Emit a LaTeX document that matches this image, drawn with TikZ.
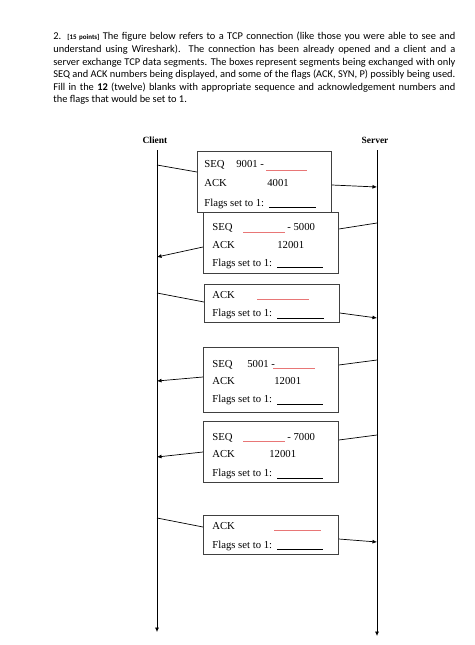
\documentclass[tikz,border=0pt]{standalone}
\usepackage{fontspec}
\setmainfont{Liberation Serif}
\newfontfamily\calibri{Carlito}
\usetikzlibrary{arrows.meta,calc}

\definecolor{blankred}{RGB}{232,118,118}
\newcommand{\redblank}[1]{\textcolor{blankred}{\rule{#1pt}{0.8pt}}}
\newcommand{\fillblank}[1]{\rule{#1pt}{0.5pt}}

\begin{document}
\begin{tikzpicture}[x=1pt, y=-1pt, >={Latex[length=4.5pt, width=4pt]}, line width=0.7pt,
  seg/.style={draw=black!75, fill=white, line width=0.8pt, anchor=north west, inner sep=0pt, minimum width=135pt},
  tx/.style={anchor=base west, inner sep=0pt, font=\fontsize{10.7}{12}\selectfont},
  hd/.style={inner sep=0pt, font=\fontsize{9.5}{11}\selectfont\bfseries}]
  \useasboundingbox (0,0) rectangle (474,645);

  % question text
  \node[anchor=north west, text width=402pt, align=justify, inner sep=0pt,
        font=\calibri\fontsize{10.4}{12.6}\selectfont] (task) at (53,32)
    {2. {\fontsize{7}{8}\selectfont\bfseries [15 points]} The figure below refers to a TCP connection (like those you were able to see and\linebreak
     understand using Wireshark). The connection has been already opened and a client and a\linebreak
     server exchange TCP data segments. The boxes represent segments being exchanged with only\linebreak
     SEQ and ACK numbers being displayed, and some of the flags (ACK, SYN, P) possibly being used.\linebreak
     Fill in the \textbf{12} (twelve) blanks with appropriate sequence and acknowledgement numbers and\linebreak
     the flags that would be set to 1.};

  % lifelines
  \node[hd] (client) at (155,140) {Client};
  \node[hd] (server) at (375,140) {Server};
  \coordinate (ctop) at (157,150);
  \coordinate (cbot) at (157,632);
  \coordinate (stop) at (377,150);
  \coordinate (sbot) at (377,636);
  \draw[->] (ctop) -- (cbot);
  \draw[->] (stop) -- (sbot);

  \coordinate (c1) at (157,165); \coordinate (s1) at (377,187);
  \coordinate (s2) at (377,223); \coordinate (c2) at (157,257);
  \coordinate (c3) at (157,293); \coordinate (s3) at (377,318);
  \coordinate (s4) at (377,360); \coordinate (c4) at (157,381);
  \coordinate (s5) at (377,435); \coordinate (c5) at (157,457);
  \coordinate (c6) at (157,518); \coordinate (s6) at (377,542);

  % segments
  \node[seg, minimum width=134pt, minimum height=61pt] (b1) at (197,151) {};
  \node[seg, minimum height=61pt] (b2) at (203,212) {};
  \node[seg, minimum height=38pt] (b3) at (204,284) {};
  \node[seg, minimum height=65pt] (b4) at (203,347) {};
  \node[seg, minimum height=61pt] (b5) at (203,421) {};
  \node[seg, minimum height=39pt] (b6) at (203,515) {};

  \foreach \c/\b/\i/\o/\s in {c1/b1/21/34/s1, c3/b3/18/29/s3, c6/b6/12/24/s6} {
    \draw (\c) -- ($(\b.north west)+(0,\i)$);
    \draw[->] ($(\b.north east)+(0,\o)$) -- (\s);
  }
  \foreach \s/\b/\i/\o/\c in {s2/b2/17/35/c2, s4/b4/18/30/c4, s5/b5/19/31/c5} {
    \draw (\s) -- ($(\b.north east)+(0,\i)$);
    \draw[->] ($(\b.north west)+(0,\o)$) -- (\c);
  }

  % box 1
  \node[tx] (b1seq) at (204,167.5) {SEQ};
  \node[tx] (b1from) at (236,167.5) {9001 -};
  \node[tx] (b1to) at (266,171) {\redblank{41}};
  \node[tx] (b1ack) at (204,186.5) {ACK};
  \node[tx] (b1ackn) at (267,186.5) {4001};
  \node[tx] (b1flg) at (204,206.5) {Flags set to 1:};
  \node[tx] (b1flgv) at (269,207) {\fillblank{47}};

  % box 2
  \node[tx] (b2seq) at (212,230.5) {SEQ};
  \node[tx] (b2from) at (243,233) {\redblank{42}};
  \node[tx] (b2to) at (287,230.5) {- 5000};
  \node[tx] (b2ack) at (212,248.5) {ACK};
  \node[tx] (b2ackn) at (277,248.5) {12001};
  \node[tx] (b2flg) at (212,266.5) {Flags set to 1:};
  \node[tx] (b2flgv) at (277,267) {\fillblank{46}};

  % box 3
  \node[tx] (b3ack) at (212,298.5) {ACK};
  \node[tx] (b3ackn) at (257,300) {\redblank{52}};
  \node[tx] (b3flg) at (212,316.5) {Flags set to 1:};
  \node[tx] (b3flgv) at (277,318) {\fillblank{47}};

  % box 4
  \node[tx] (b4seq) at (212,367.5) {SEQ};
  \node[tx] (b4from) at (247,367.5) {5001 -};
  \node[tx] (b4to) at (273,369) {\redblank{42}};
  \node[tx] (b4ack) at (212,384.5) {ACK};
  \node[tx] (b4ackn) at (274,384.5) {12001};
  \node[tx] (b4flg) at (212,402.5) {Flags set to 1:};
  \node[tx] (b4flgv) at (277,404) {\fillblank{46}};

  % box 5
  \node[tx] (b5seq) at (212,440.5) {SEQ};
  \node[tx] (b5from) at (243,442) {\redblank{42}};
  \node[tx] (b5to) at (287,440.5) {- 7000};
  \node[tx] (b5ack) at (212,457.5) {ACK};
  \node[tx] (b5ackn) at (269,457.5) {12001};
  \node[tx] (b5flg) at (212,476.5) {Flags set to 1:};
  \node[tx] (b5flgv) at (277,478) {\fillblank{46}};

  % box 6
  \node[tx] (b6ack) at (212,529.5) {ACK};
  \node[tx] (b6ackn) at (274,531) {\redblank{47}};
  \node[tx] (b6flg) at (212,548.5) {Flags set to 1:};
  \node[tx] (b6flgv) at (277,549) {\fillblank{46}};
\end{tikzpicture}
\end{document}
